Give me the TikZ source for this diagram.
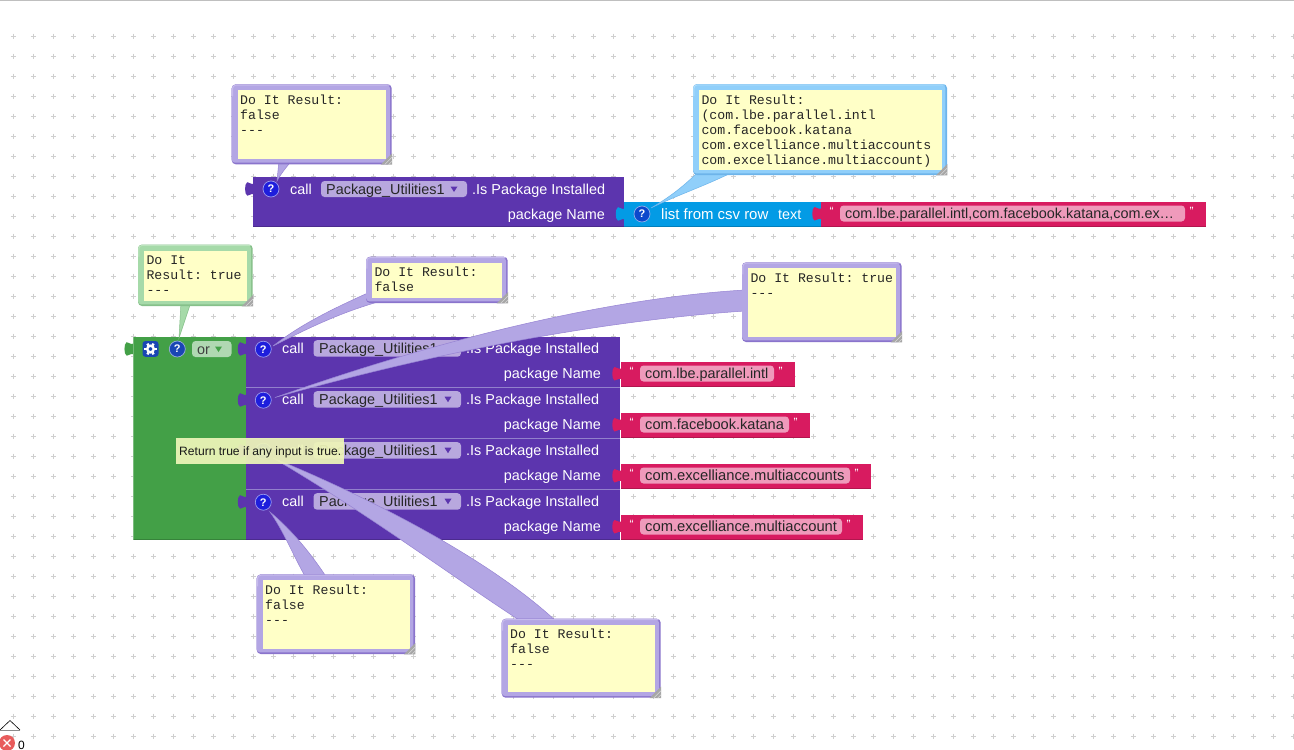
\documentclass[tikz,border=0pt]{standalone}
\usepackage{fontspec}
\setmainfont{Liberation Sans}
\newfontfamily\monof{Liberation Mono}
\definecolor{blkpurple}{HTML}{5C35AE}
\definecolor{blkgreen}{HTML}{43A047}
\definecolor{blkblue}{HTML}{039BE5}
\definecolor{blkpink}{HTML}{D81B60}
\definecolor{seppurple}{HTML}{9280CC}
\definecolor{ddpurple}{HTML}{B8A8DE}
\definecolor{ddgreen}{HTML}{B0D8B2}
\definecolor{ddpink}{HTML}{EF9ABB}
\definecolor{notey}{HTML}{FFFFC7}
\definecolor{bpmain}{HTML}{B3A6E4}
\definecolor{bpdark}{HTML}{8A74CC}
\definecolor{bplight}{HTML}{C6BBEC}
\definecolor{bgmain}{HTML}{A6DAA9}
\definecolor{bgdark}{HTML}{86C08A}
\definecolor{bglight}{HTML}{BCE4BE}
\definecolor{bbmain}{HTML}{90CFFA}
\definecolor{bbdark}{HTML}{6DB4EA}
\definecolor{bblight}{HTML}{B0DEFC}
\definecolor{qpurple}{HTML}{1E1EDC}
\definecolor{qgreen}{HTML}{1A46B4}
\definecolor{qblue}{HTML}{0C48CC}
\definecolor{gridc}{HTML}{CFCFCF}
\definecolor{tipc}{HTML}{EEF5B8}
\definecolor{warnred}{HTML}{E85C5C}
\frenchspacing
\tikzset{
  sans/.style={inner sep=0pt,anchor=base west,font=\fontsize{14.4}{16}\selectfont},
  sansr/.style={inner sep=0pt,anchor=base east,font=\fontsize{14.4}{16}\selectfont},
  wtxt/.style={text=white},
  dtxt/.style={text=black!85},
  quot/.style={inner sep=0pt,anchor=base west,font=\fontsize{12}{12}\selectfont,text=white},
  monot/.style={inner sep=0pt,anchor=north west,align=left,text=black!85,font=\monof\fontsize{13.2}{15}\selectfont},
  tailp/.style={fill=bpmain,draw=bpdark!70!bpmain,line width=.5pt},
  tailg/.style={fill=bgmain,draw=bgdark,line width=.5pt},
  tailb/.style={fill=bbmain,draw=bbdark,line width=.5pt},
}
% tab on the left side of a block: colour, x, top y
\newcommand\blktab[3]{\fill[#1] (#2+.5,#3+7) .. controls (#2-3,#3+8) and (#2-4,#3+5.2) .. (#2-6,#3+5.5) .. controls (#2-9,#3+6.5) and (#2-9,#3+18) .. (#2-6,#3+19) .. controls (#2-4,#3+19.5) and (#2-3,#3+16.5) .. (#2+.5,#3+17.5) -- cycle;}
% question icon: name, x, y, colour
\newcommand\qicon[4]{\node[circle,fill=#4,draw=white!55!#4,line width=.7pt,minimum size=16pt,inner sep=0pt,text=white,font=\bfseries\fontsize{11}{11}\selectfont] (#1) at (#2,#3) {?};}
% dropdown: x0,y0,x1,y1,fill,arrow colour
\newcommand\dropfield[6]{\fill[#5,rounded corners=3.5pt] (#1,#2) rectangle (#3,#4);
  \fill[#6] (#3-16.5,#2+5.5) -- (#3-9.5,#2+5.5) -- (#3-13,#2+11) -- cycle;}
% one call row: name suffix, top y
\newcommand\callrow[2]{%
  \blktab{blkpurple}{246}{#2}
  \qicon{q#1}{263.3}{#2+12.5}{qpurple}
  \dropfield{313.5}{#2+3.5}{461}{#2+20}{ddpurple}{blkpurple}
  \node[sans,wtxt] (call#1) at (282,#2+16.5) {call};
  \node[sans,dtxt] (pu#1) at (319,#2+16.5) {Package\_Utilities1};
  \node[sans,wtxt] (ispi#1) at (466,#2+16.5) {.Is Package Installed};
  \node[sansr,wtxt] (pn#1) at (601,#2+41.5) {package Name};}
% string block: name, text, top y, block left, field right, block right, font size
\newcommand\strblock[7]{%
  \fill[blkpink] (#4,#3+.2) rectangle (#6,#3+25.5);
  \fill[black,opacity=.18] (#4,#3+24.7) rectangle (#6,#3+25.5);
  \blktab{blkpink}{#4}{#3}
  \fill[ddpink,rounded corners=3.5pt] (#4+19.5,#3+4) rectangle (#5,#3+20);
  \node[quot] (oq#1) at (#4+9,#3+14) {“};
  \node[quot] (cq#1) at (#5+4.5,#3+14) {”};
  \node[sans,dtxt,font=\fontsize{#7}{16}\selectfont] (tx#1) at (#4+24.5,#3+16.5) {#2};}
% note bubble: name, colour prefix, x0,y0,x1,y1, text
\newcommand\bubble[7]{%
  \fill[#2dark,rounded corners=4pt] (#3,#4) rectangle (#5,#6);
  \fill[#2main,rounded corners=3.5pt] (#3,#4+.8) rectangle (#5-1.6,#6-1.6);
  \draw[#2light,line width=1pt,rounded corners=3.5pt] (#3+.8,#4+12) -- (#3+.8,#4+.8) -- (#5-2,#4+.8);
  \fill[notey] (#3+6,#4+6) rectangle (#5-5.5,#6-5.5);
  \fill[black!35] (#5+.3,#6-11) -- (#5+.3,#6+.3) -- (#5-11,#6+.3) -- cycle;
  \draw[white!85!black,line width=.5pt] (#5-7,#6+.3) -- (#5+.3,#6-7) (#5-3,#6+.3) -- (#5+.3,#6-3);
  \node[monot] (#1) at (#3+8.3,#4+9.8) {\rule{0pt}{10pt}#7};}
\begin{document}
\begin{tikzpicture}[x=1pt,y=-1pt]
\useasboundingbox (0,0) rectangle (1294,750);
\fill[white] (0,0) rectangle (1294,750);
\draw[black!25,line width=.6pt] (0,.3) -- (1294,.3);
% workspace grid
\foreach \gx in {13.3,33.3,...,1293.4}
  \foreach \gy in {36,56,...,736.1}
    \draw[gridc,line width=.7pt] (\gx-2.5,\gy) -- (\gx+2.5,\gy) (\gx,\gy-2.5) -- (\gx,\gy+2.5);

% ---------- top block
\fill[blkpurple] (253.3,176.7) rectangle (623.5,226.7);
\fill[black,opacity=.18] (253.3,225.9) rectangle (623.5,226.7);
\blktab{blkpurple}{253.3}{176.7}
\qicon{qtop}{271}{189}{qpurple}
\node[sans,wtxt] (calltop) at (290,194) {call};
\dropfield{321}{181}{467}{197}{ddpurple}{blkpurple}
\node[sans,dtxt] (putop) at (326,194) {Package\_Utilities1};
\node[sans,wtxt] (ispitop) at (472,194) {.Is Package Installed};
\node[sansr,wtxt] (pntop) at (605,219) {package Name};
% list from csv row
\fill[blkblue] (624,201.7) rectangle (820.5,226.7);
\fill[black,opacity=.18] (624,225.9) rectangle (820.5,226.7);
\blktab{blkblue}{624}{201.7}
\qicon{qcsv}{642}{214}{qblue}
\node[sans,wtxt,font=\fontsize{14.95}{16}\selectfont] (lcsv) at (661,219) {list from csv row};
\node[sans,wtxt] (lcsvt) at (778,219) {text};
\strblock{csv}{com.lbe.parallel.intl,com.facebook.katana,com.ex…}{201.5}{820.5}{1185}{1206}{14.4}

% ---------- or block
\fill[blkgreen] (132.7,336.7) rectangle (245.5,539.7);
\fill[black,opacity=.18] (132.7,538.9) rectangle (245.5,539.7);
\fill[white,opacity=.3] (132.7,336.7) rectangle (133.5,539.7);
\blktab{blkgreen}{132.7}{336.7}
\fill[qgreen,rounded corners=3pt] (142.5,341) rectangle (158.5,356.8);
\fill[white,even odd rule] (150.5,349) circle[radius=4.6] (150.5,349) circle[radius=2];
\foreach \ga in {0,60,...,300}
  \fill[white] (150.5,349) ++(\ga-17:4.2) -- ++(\ga:2.2) -- ++(\ga+90:2.4) -- ++(\ga+180:2.2) -- cycle;
\qicon{qor}{177.3}{349}{qgreen}
\dropfield{192}{341}{231.5}{357}{ddgreen}{blkgreen}
\node[sans,text=black!75] (ortxt) at (197,354) {or};

% ---------- call rows
\fill[blkpurple] (246,336.7) rectangle (620.3,539.7);
\fill[black,opacity=.18] (246,538.9) rectangle (620.3,539.7);
\draw[seppurple,line width=.8pt] (246,387.3) -- (620.3,387.3) (246,438.3) -- (620.3,438.3) (246,489.3) -- (620.3,489.3);
\callrow{a}{336.7}
\callrow{b}{387.7}
\callrow{c}{438.7}
\callrow{d}{489.7}
\strblock{a}{com.lbe.parallel.intl}{361.5}{620.5}{774}{795}{14.4}
\strblock{b}{com.facebook.katana}{412.5}{620.5}{789}{810}{14.6}
\strblock{c}{com.excelliance.multiaccounts}{463.5}{620.5}{850}{871}{14.75}
\strblock{d}{com.excelliance.multiaccount}{514.5}{620.5}{842}{863}{14.75}

% ---------- bubble tails
\path[tailp] (279,160) -- (277,181) .. controls (282,172) and (286,168) .. (292,160) -- cycle;
\path[tailb] (699,171) .. controls (682,188) and (668,198) .. (651,208) .. controls (675,196) and (705,186) .. (735,171) -- cycle;
\path[tailg] (181,302) -- (179,338) -- (191,302) -- cycle;
\path[tailp] (370,292) .. controls (330,310) and (300,325) .. (273,346) .. controls (305,330) and (340,312) .. (385,300) -- cycle;
\path[tailp] (745,290) .. controls (640,296) and (480,325) .. (275,397.5) .. controls (480,340) and (640,318) .. (745,311) -- cycle;
\path[tailp] (306,578) .. controls (293,555) and (283,530) .. (270,512) .. controls (292,530) and (312,555) .. (327,578) -- cycle;
\path[tailp] (522,622) .. controls (450,575) and (370,515) .. (273,458) .. controls (340,485) and (480,550) .. (557,622) -- cycle;

% ---------- bubbles
\bubble{ntop}{bp}{231.7}{84.3}{391.7}{164.3}{Do It Result:\\false\\---}
\bubble{ncsv}{bb}{693}{84}{947}{175}{Do It Result:\\(com.lbe.parallel.intl\\com.facebook.katana\\com.excelliance.multiaccounts\\com.excelliance.multiaccount)}
\bubble{nor}{bg}{138}{244.5}{252.7}{306}{Do It\\Result: true\\---}
\bubble{na}{bp}{366}{256.7}{507.7}{303}{Do It Result:\\false}
\bubble{nb}{bp}{742}{262.3}{901.7}{342}{Do It Result: true\\---}
\bubble{nd}{bp}{256.7}{574.3}{415}{654}{Do It Result:\\false\\---}
\bubble{nc}{bp}{501.7}{618.7}{660.7}{697.7}{Do It Result:\\false\\---}

% ---------- tooltip
\fill[tipc,opacity=.93] (176,438.3) rectangle (344,463.7);
\node[inner sep=0pt,anchor=base west,text=black!90,font=\fontsize{12.1}{14}\selectfont] (tip) at (179,455) {Return true if any input is true.};

% ---------- warning indicator
\fill[white] (10,720.5) -- (20,730) -- (0,730) -- cycle;
\draw[black,line width=.6pt] (0,730) -- (10,720.5) -- (20,730);
\fill[black!45] (0,729.5) rectangle (20,731);
\begin{scope}
\clip (0,731) rectangle (30,750);
\fill[warnred] (7,743) circle[radius=8];
\draw[white,line width=1.4pt] (3.5,739.5) -- (10.5,746.5) (10.5,739.5) -- (3.5,746.5);
\end{scope}
\node[inner sep=0pt,anchor=base west,font=\fontsize{12}{14}\selectfont] (warnz) at (18,749.5) {0};
\end{tikzpicture}
\end{document}
